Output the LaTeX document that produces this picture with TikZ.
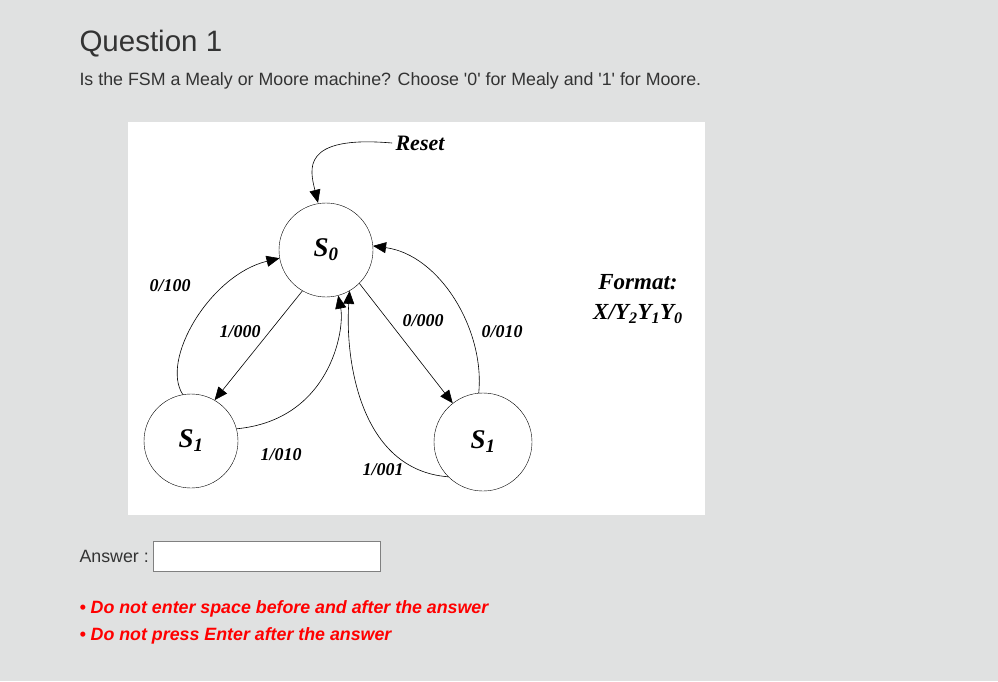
\documentclass[tikz,border=0pt]{standalone}
\usepackage{fontspec}
\setmainfont{Liberation Serif}
\setsansfont{Liberation Sans}
\usetikzlibrary{arrows.meta}
\definecolor{bg}{HTML}{E0E1E1}
\definecolor{txt}{HTML}{333333}
\begin{document}
\begin{tikzpicture}[x=1pt,y=-1pt,
  st/.style={circle,draw,minimum size=94pt,inner sep=0pt,font=\fontsize{27}{29}\selectfont\bfseries\itshape},
  lbl/.style={font=\fontsize{18}{20}\selectfont\bfseries\itshape},
  ed/.style={-{Triangle[length=13pt,width=11pt]},line width=0.6pt},
  ui/.style={font=\sffamily\fontsize{17.8}{20}\selectfont,text=txt,anchor=west},
  warn/.style={font=\sffamily\fontsize{17.8}{20}\selectfont\bfseries\itshape,text=red,anchor=west}]
\fill[bg] (0,0) rectangle (998,681);
\useasboundingbox (0,0) rectangle (998,681);
\node[ui,font=\sffamily\fontsize{29.5}{32}\selectfont] (q) at (76,44) {Question 1};
\node[ui] (qt) at (76,81) {Is the FSM a Mealy or Moore machine? Choose \textquotesingle0\textquotesingle{} for Mealy and \textquotesingle1\textquotesingle{} for Moore.};
\fill[white] (128,122) rectangle (705,515);
\node[st] (s0) at (326,250) {S\textsubscript{0}};
\node[st] (s1) at (191,441) {S\textsubscript{1}};
\node[st,minimum size=98pt] (s2) at (483,442) {S\textsubscript{1}};
\node[lbl,font=\fontsize{22}{24}\selectfont\bfseries\itshape] (reset) at (420,143) {Reset};
\draw[ed] (reset.west) .. controls (300,135) and (310,170) .. (s0.north -| 318,0);
\draw[ed] (s1.100) .. controls (160,360) and (210,275) .. (s0.190);
\draw[ed] (s0.240) -- (s1.60);
\draw[ed] (s1.15) .. controls (330,420) and (345,330) .. (s0.285);
\draw[ed] (s2.225) .. controls (360,470) and (345,360) .. (s0.300);
\draw[ed] (s0.315) -- (s2.128);
\draw[ed] (s2.95) .. controls (485,330) and (440,255) .. (s0.5);
\node[lbl] (l1) at (170,286) {0/100};
\node[lbl] (l2) at (240,332) {1/000};
\node[lbl] (l3) at (281,455) {1/010};
\node[lbl] (l4) at (383,470) {1/001};
\node[lbl] (l5) at (423,321) {0/000};
\node[lbl] (l6) at (502,332) {0/010};
\node[lbl,font=\fontsize{23}{25}\selectfont\bfseries\itshape] (f1) at (638,282) {Format:};
\node[lbl,font=\fontsize{23}{25}\selectfont\bfseries\itshape] (f2) at (638,314) {X/Y\textsubscript{2}Y\textsubscript{1}Y\textsubscript{0}};
\node[ui] (ans) at (76,556) {Answer :};
\draw[fill=white,draw=gray] (153,541) rectangle (380,571);
\node[warn] (w1) at (76,609) {• Do not enter space before and after the answer};
\node[warn] (w2) at (76,636) {• Do not press Enter after the answer};
\end{tikzpicture}
\end{document}
